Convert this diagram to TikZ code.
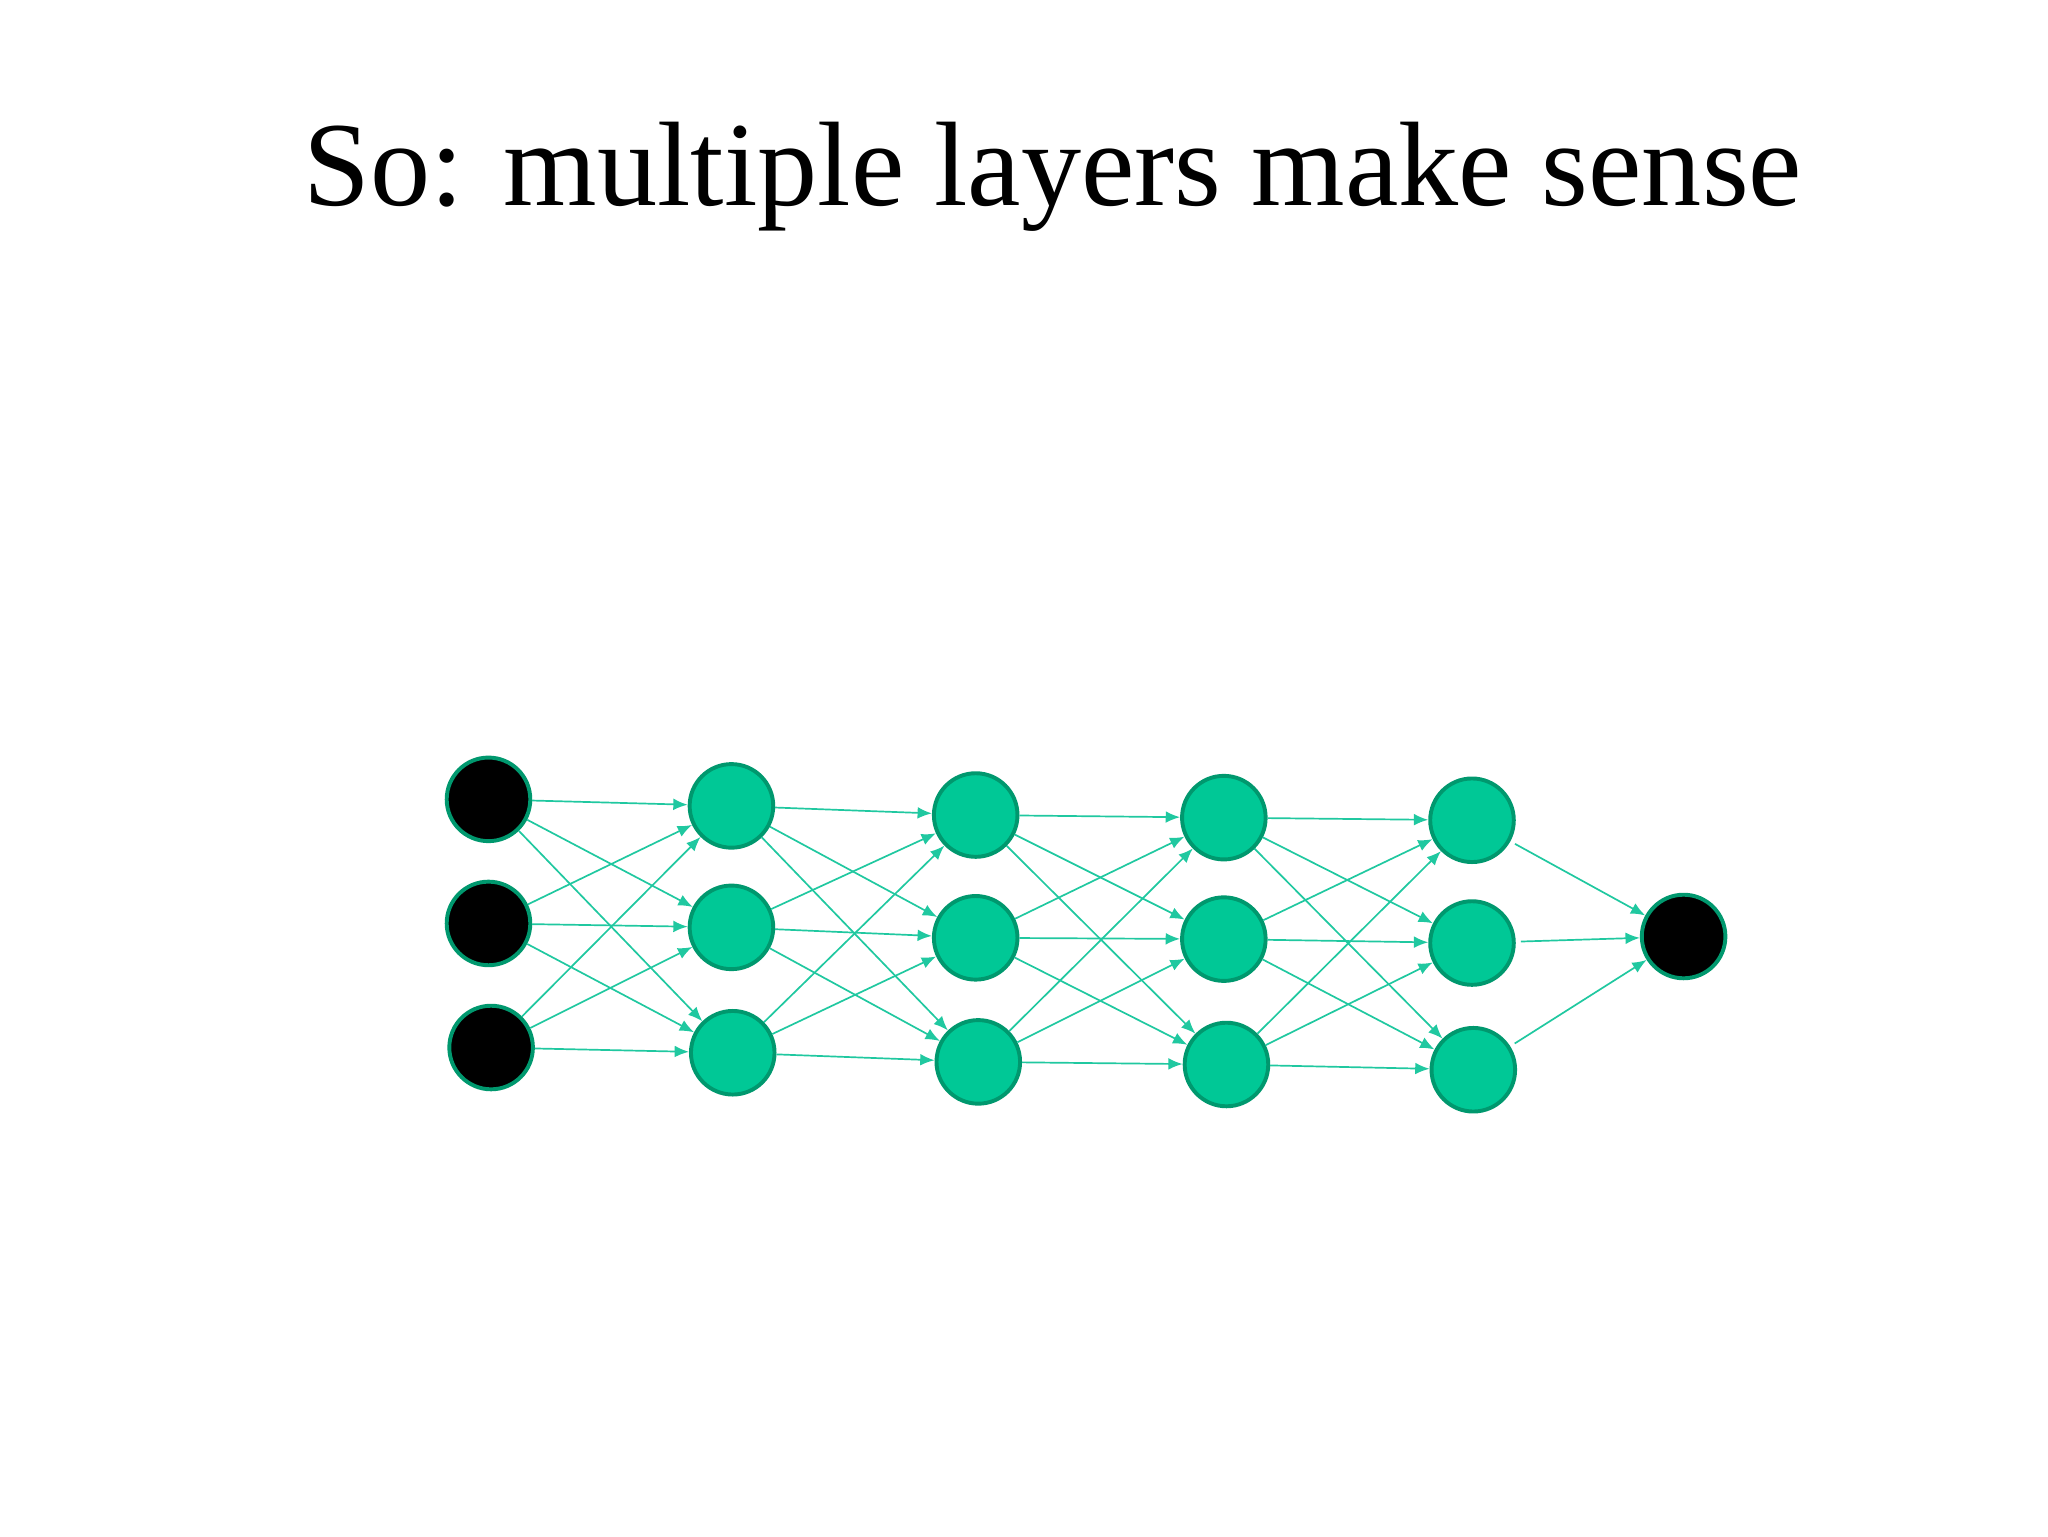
\documentclass[tikz,border=0pt]{standalone}
\usepackage{fontspec}
\setmainfont{Liberation Serif}
\usetikzlibrary{arrows.meta}
\definecolor{nfill}{HTML}{00C896}
\definecolor{nedge}{HTML}{00986E}
\definecolor{ecol}{HTML}{20C8A0}
\tikzset{
  neuron/.style={circle,minimum size=64pt,inner sep=0pt,line width=3pt,draw=nedge,fill=nfill},
  inneuron/.style={neuron,fill=black},
  conn/.style={draw=ecol,line width=1.3pt,-{Latex[length=11pt,width=9pt]}}
}
\begin{document}
\begin{tikzpicture}[x=1pt,y=-1pt]
\useasboundingbox (0,0) rectangle (1568,1176);
\node (title) at (806,135) {\fontsize{92}{100}\selectfont So: multiple layers make sense};
\node[inneuron] (a1) at (374,612) {};
\node[inneuron] (a2) at (374,707) {};
\node[inneuron] (a3) at (376,802) {};
\node[neuron] (b1) at (560,617) {};
\node[neuron] (b2) at (560,710) {};
\node[neuron] (b3) at (561,806) {};
\node[neuron] (c1) at (747,624) {};
\node[neuron] (c2) at (747,718) {};
\node[neuron] (c3) at (749,813) {};
\node[neuron] (d1) at (937,626) {};
\node[neuron] (d2) at (937,719) {};
\node[neuron] (d3) at (939,815) {};
\node[neuron] (e1) at (1127,628) {};
\node[neuron] (e2) at (1127,722) {};
\node[neuron] (e3) at (1128,819) {};
\node[inneuron] (o) at (1289,717) {};
\foreach \s/\t in {a/b,b/c,c/d,d/e}{
  \foreach \i in {1,2,3}{
    \foreach \j in {1,2,3}{
      \draw[conn] (\s\i) -- (\t\j);
    }
  }
}
\foreach \i in {1,2,3}{\draw[conn,shorten <=4pt] (e\i) -- (o);}
\end{tikzpicture}
\end{document}
